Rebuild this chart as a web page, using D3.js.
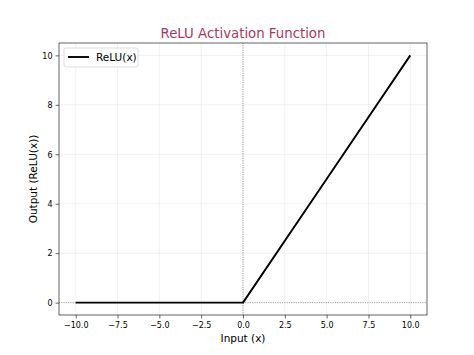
<!DOCTYPE html>
<html lang="en">
<head>
    <meta charset="UTF-8">
    <title>ReLU Activation Function</title>
    <style>
        html,
        body {
            margin: 0;
            height: 100%;
            overflow: hidden;
            background: #fff;
        }
        svg { display: block; }
        text { font-family: "DejaVu Sans", sans-serif; }
    </style>
    <script src="https://d3js.org/d3.v7.min.js"></script>
</head>
<body>
    <svg id="svg"></svg>
    <script>
        // data
        const xValues = [-10, -5, 0, 5, 10];
        const yValues = [0, 0, 0, 5, 10];
        const xTicks = [-10, -7.5, -5, -2.5, 0, 2.5, 5, 7.5, 10];
        const yTicks = [0, 2, 4, 6, 8, 10];

        const width = 474, height = 355;
        const svg = d3.select('#svg').attr('width', width).attr('height', height);
        const margin = { top: 43, left: 59, bottom: 40, right: 47 };
        const innerWidth = width - margin.left - margin.right;
        const innerHeight = height - margin.top - margin.bottom;

        const g = svg.append('g').attr('transform', `translate(${margin.left},${margin.top})`);

        const xScale = d3.scaleLinear().domain([-11, 11]).range([0, innerWidth]);
        const yScale = d3.scaleLinear().domain([-0.5, 10.5]).range([innerHeight, 0]);

        const fmtMinus = s => s.replace('-', '\u2212');

        // grid
        g.append('g').selectAll('line').data(xTicks).join('line')
            .attr('x1', d => xScale(d)).attr('x2', d => xScale(d))
            .attr('y1', 0).attr('y2', innerHeight)
            .attr('stroke', '#b0b0b0').attr('stroke-opacity', 0.3).attr('stroke-width', 0.6);
        g.append('g').selectAll('line').data(yTicks).join('line')
            .attr('y1', d => yScale(d)).attr('y2', d => yScale(d))
            .attr('x1', 0).attr('x2', innerWidth)
            .attr('stroke', '#b0b0b0').attr('stroke-opacity', 0.3).attr('stroke-width', 0.6);

        // zero lines
        g.append('line')
            .attr('x1', 0).attr('x2', innerWidth)
            .attr('y1', yScale(0)).attr('y2', yScale(0))
            .attr('stroke', '#808080').attr('stroke-width', 0.8).attr('stroke-dasharray', '1,1.3');
        g.append('line')
            .attr('x1', xScale(0)).attr('x2', xScale(0))
            .attr('y1', 0).attr('y2', innerHeight)
            .attr('stroke', '#808080').attr('stroke-width', 0.8).attr('stroke-dasharray', '1,1.3');

        // axes
        const xAxis = d3.axisBottom(xScale).tickValues(xTicks).tickSize(3.5).tickPadding(3)
            .tickFormat(d => fmtMinus(d3.format('.1f')(d)));
        const xg = g.append('g').attr('transform', `translate(0,${innerHeight})`).call(xAxis);
        const yAxis = d3.axisLeft(yScale).tickValues(yTicks).tickSize(3.5).tickPadding(3)
            .tickFormat(d3.format('d'));
        const yg = g.append('g').call(yAxis);
        [xg, yg].forEach(a => {
            a.attr('font-size', 8).attr('font-family', '"DejaVu Sans", sans-serif');
            a.select('.domain').remove();
            a.selectAll('.tick line').attr('stroke', '#000').attr('stroke-width', 0.6);
            a.selectAll('.tick text').attr('fill', '#000');
        });
        // explicit baselines instead of em offsets
        xg.selectAll('.tick text').attr('dy', null).attr('y', 12.5);
        yg.selectAll('.tick text').attr('dy', null).attr('y', 2.8);

        // line
        const line = d3.line().x((d, i) => xScale(xValues[i])).y(d => yScale(d));
        g.append('path').datum(yValues)
            .attr('d', line)
            .attr('fill', 'none')
            .attr('stroke', '#000')
            .attr('stroke-width', 1.9)
            .attr('stroke-linejoin', 'round');

        // frame
        g.append('rect').attr('width', innerWidth).attr('height', innerHeight)
            .attr('fill', 'none').attr('stroke', '#222').attr('stroke-width', 0.7);

        // legend
        const lg = g.append('g').attr('transform', 'translate(5,5)');
        lg.append('rect').attr('width', 74).attr('height', 19).attr('rx', 2)
            .attr('fill', '#fff').attr('fill-opacity', 0.8).attr('stroke', '#d6d6d6').attr('stroke-width', 0.8);
        lg.append('line').attr('x1', 4).attr('x2', 25).attr('y1', 9).attr('y2', 9)
            .attr('stroke', '#000').attr('stroke-width', 1.9);
        lg.append('text').attr('x', 32).attr('y', 13).text('ReLU(x)')
            .style('font-size', '10.5px').attr('fill', '#000');

        // title & labels
        svg.append('text').attr('x', margin.left + innerWidth / 2).attr('y', 38)
            .attr('text-anchor', 'middle').style('font-size', '13.3px').attr('fill', '#a8385f')
            .text('ReLU Activation Function');
        svg.append('text').attr('x', margin.left + innerWidth / 2).attr('y', 342)
            .attr('text-anchor', 'middle').style('font-size', '10.5px').attr('fill', '#000')
            .text('Input (x)');
        svg.append('text')
            .attr('transform', `translate(37,${margin.top + innerHeight / 2}) rotate(-90)`)
            .attr('text-anchor', 'middle').style('font-size', '10.5px').attr('fill', '#000')
            .text('Output (ReLU(x))');
    </script>
</body>
</html>
